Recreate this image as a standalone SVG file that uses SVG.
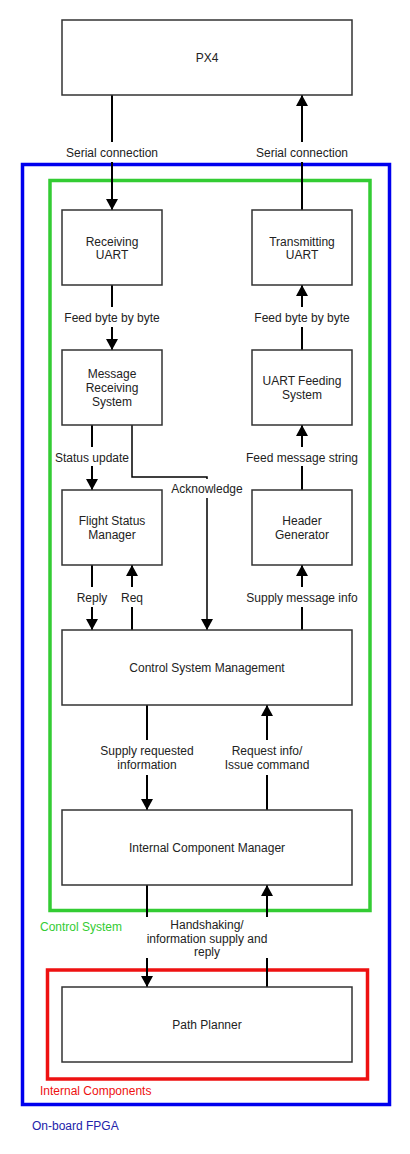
<svg xmlns="http://www.w3.org/2000/svg" width="410" height="1154" viewBox="0 0 410 1154">
<style>
text{font-family:"Liberation Sans",Arial,Helvetica,sans-serif;font-size:12px;fill:#222;}
.c{text-anchor:middle;}
.node rect{fill:#fff;stroke:#333;stroke-width:1.5;}
.edge{fill:none;stroke:#000;stroke-width:2;marker-end:url(#arr);}
.bg{fill:#fff;stroke:none;}
.cont{fill:none;stroke-width:3.5;}
</style>
<defs>
<marker id="arr" markerUnits="userSpaceOnUse" markerWidth="12" markerHeight="12" refX="11" refY="6" orient="auto" viewBox="0 0 12 12">
<path d="M0,0 L11,6 L0,12 z" fill="#000"/>
</marker>
</defs>
<rect width="410" height="1154" fill="#fff"/>
<g id="containers">
<rect class="cont" x="22.5" y="164.5" width="367" height="940" stroke="#0000ee"/>
<rect class="cont" x="50" y="180.5" width="320" height="730" stroke="#33cc33"/>
<rect class="cont" x="47.5" y="970" width="320" height="109" stroke="#ee1111"/>
<text x="40" y="931" style="fill:#33cc33">Control System</text>
<text x="40" y="1095" style="fill:#ee1111">Internal Components</text>
<text x="32" y="1130" style="fill:#2222aa">On-board FPGA</text>
</g>
<g id="connectors">
<path class="edge" d="M112,95 L112,210"/>
<path class="edge" d="M302,210 L302,95"/>
<path class="edge" d="M112,285 L112,350"/>
<path class="edge" d="M302,350 L302,285"/>
<path class="edge" d="M92,425 L92,490"/>
<path class="edge" d="M132,425 L132,477 L207,477 L207,630" style="stroke-width:1.5"/>
<path class="edge" d="M302,490 L302,425"/>
<path class="edge" d="M92,565 L92,630"/>
<path class="edge" d="M132,630 L132,565"/>
<path class="edge" d="M302,630 L302,565"/>
<path class="edge" d="M147,705 L147,810"/>
<path class="edge" d="M267,810 L267,705"/>
<path class="edge" d="M147,885 L147,987"/>
<path class="edge" d="M267,987 L267,885"/>
</g>
<g id="labels">
<rect class="bg" x="64" y="142" width="96" height="20"/>
<text class="c" x="112" y="157">Serial connection</text>
<rect class="bg" x="254" y="142" width="96" height="20"/>
<text class="c" x="302" y="157">Serial connection</text>
<rect class="bg" x="64" y="307" width="96" height="20"/>
<text class="c" x="112" y="322">Feed byte by byte</text>
<rect class="bg" x="254" y="307" width="96" height="20"/>
<text class="c" x="302" y="322">Feed byte by byte</text>
<rect class="bg" x="54" y="447" width="76" height="19"/>
<text class="c" x="92" y="462">Status update</text>
<rect class="bg" x="242" y="447" width="120" height="19"/>
<text class="c" x="302" y="462">Feed message string</text>
<rect class="bg" x="170" y="479" width="74" height="19"/>
<text class="c" x="207" y="493">Acknowledge</text>
<rect class="bg" x="75" y="587" width="34" height="20"/>
<text class="c" x="92" y="602">Reply</text>
<rect class="bg" x="120" y="587" width="24" height="20"/>
<text class="c" x="132" y="602">Req</text>
<rect class="bg" x="244" y="587" width="116" height="20"/>
<text class="c" x="302" y="602">Supply message info</text>
<rect class="bg" x="96" y="740" width="100" height="35"/>
<text class="c" x="147" y="755">Supply requested</text>
<text class="c" x="147" y="768.5">information</text>
<rect class="bg" x="220" y="740" width="94" height="35"/>
<text class="c" x="267" y="755">Request info/</text>
<text class="c" x="267" y="768.5">Issue command</text>
<rect class="bg" x="141" y="917" width="132" height="41"/>
<text class="c" x="207" y="929">Handshaking/</text>
<text class="c" x="207" y="942.5">information supply and</text>
<text class="c" x="207" y="956">reply</text>
</g>
<g id="px4" class="node"><rect x="62" y="20" width="290" height="75"/><text class="c" x="207" y="62">PX4</text></g>
<g id="receiving-uart" class="node"><rect x="62" y="210" width="100" height="75"/><text class="c" x="112" y="246">Receiving</text><text class="c" x="112" y="259">UART</text></g>
<g id="transmitting-uart" class="node"><rect x="252" y="210" width="100" height="75"/><text class="c" x="302" y="246">Transmitting</text><text class="c" x="302" y="259">UART</text></g>
<g id="message-receiving" class="node"><rect x="62" y="350" width="100" height="75"/><text class="c" x="112" y="378">Message</text><text class="c" x="112" y="392">Receiving</text><text class="c" x="112" y="406">System</text></g>
<g id="uart-feeding" class="node"><rect x="252" y="350" width="100" height="75"/><text class="c" x="302" y="385">UART Feeding</text><text class="c" x="302" y="399">System</text></g>
<g id="flight-status" class="node"><rect x="62" y="490" width="100" height="75"/><text class="c" x="112" y="525">Flight Status</text><text class="c" x="112" y="539">Manager</text></g>
<g id="header-generator" class="node"><rect x="252" y="490" width="100" height="75"/><text class="c" x="302" y="525">Header</text><text class="c" x="302" y="539">Generator</text></g>
<g id="control-system-management" class="node"><rect x="62" y="630" width="290" height="75"/><text class="c" x="207" y="672">Control System Management</text></g>
<g id="internal-component-manager" class="node"><rect x="62" y="810" width="290" height="75"/><text class="c" x="207" y="852">Internal Component Manager</text></g>
<g id="path-planner" class="node"><rect x="62" y="987" width="290" height="75"/><text class="c" x="207" y="1029">Path Planner</text></g>
</svg>
